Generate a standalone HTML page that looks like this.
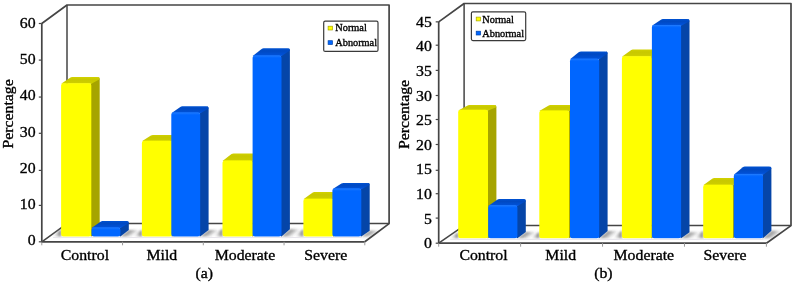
<!DOCTYPE html>
<html><head><meta charset="utf-8"><style>
html,body{margin:0;padding:0;background:#fff;width:794px;height:283px;overflow:hidden}
svg{display:block;will-change:transform}
text{font-family:"Liberation Serif", serif;fill:#000;stroke:#000;stroke-width:0.35px}
</style></head><body>
<svg width="794" height="283" viewBox="0 0 794 283">
<defs>
<linearGradient id="shd" x1="0" y1="0" x2="1" y2="0"><stop offset="0" stop-color="#7a7a7a"/><stop offset="1" stop-color="#ffffff" stop-opacity="0"/></linearGradient>
<linearGradient id="shd2" x1="0" y1="0" x2="1" y2="0"><stop offset="0" stop-color="#ffffff" stop-opacity="0"/><stop offset="1" stop-color="#6a6a6a"/></linearGradient>
<linearGradient id="ytop" x1="0" y1="0" x2="0" y2="1"><stop offset="0" stop-color="#d2d200"/><stop offset="0.35" stop-color="#c8c800"/><stop offset="0.8" stop-color="#cccc00"/><stop offset="1" stop-color="#e0e000"/></linearGradient>
<linearGradient id="btop" x1="0" y1="0" x2="0" y2="1"><stop offset="0" stop-color="#0052d2"/><stop offset="0.35" stop-color="#0049c2"/><stop offset="0.8" stop-color="#0050d4"/><stop offset="1" stop-color="#0a60ee"/></linearGradient>
<linearGradient id="bhl" x1="0" y1="0" x2="0" y2="1"><stop offset="0" stop-color="#3388ff" stop-opacity="0.7"/><stop offset="1" stop-color="#0066ff" stop-opacity="0"/></linearGradient>
<filter id="blur2" x="-50%" y="-50%" width="200%" height="200%"><feGaussianBlur stdDeviation="1.3"/></filter>
<filter id="blur" x="-50%" y="-50%" width="200%" height="200%"><feGaussianBlur stdDeviation="0.8"/></filter>
</defs>
<rect width="794" height="283" fill="#fff"/>
<path d="M67 5 L67 223.6 L389.1 223.6 M41.8 241.8 L67 223.6" stroke="#454545" stroke-width="1.5" fill="none"/>
<g filter="url(#blur)"><path d="M120.7 236.5 L129.1 230.1 L131.1 230.1 L122.7 236.5 Z" fill="#4a4a4a" fill-opacity="0.62"/><path d="M122.7 236.5 L131.1 230.1 L133.1 230.1 L124.7 236.5 Z" fill="#4a4a4a" fill-opacity="0.55"/><path d="M124.7 236.5 L133.1 230.1 L135.1 230.1 L126.7 236.5 Z" fill="#4a4a4a" fill-opacity="0.42"/><path d="M126.7 236.5 L135.1 230.1 L137.1 230.1 L128.7 236.5 Z" fill="#4a4a4a" fill-opacity="0.28"/><path d="M128.7 236.5 L137.1 230.1 L139.1 230.1 L130.7 236.5 Z" fill="#4a4a4a" fill-opacity="0.14"/></g>
<path d="M51.1 236.5 L61.1 229.3 L61.1 236.5 Z" fill="url(#shd2)" filter="url(#blur)"/>
<g filter="url(#blur)"><path d="M200.5 236.5 L208.9 230.1 L210.9 230.1 L202.5 236.5 Z" fill="#4a4a4a" fill-opacity="0.62"/><path d="M202.5 236.5 L210.9 230.1 L212.9 230.1 L204.5 236.5 Z" fill="#4a4a4a" fill-opacity="0.55"/><path d="M204.5 236.5 L212.9 230.1 L214.9 230.1 L206.5 236.5 Z" fill="#4a4a4a" fill-opacity="0.42"/><path d="M206.5 236.5 L214.9 230.1 L216.9 230.1 L208.5 236.5 Z" fill="#4a4a4a" fill-opacity="0.28"/><path d="M208.5 236.5 L216.9 230.1 L218.9 230.1 L210.5 236.5 Z" fill="#4a4a4a" fill-opacity="0.14"/></g>
<path d="M131.9 236.5 L141.9 229.7 L141.9 236.5 Z" fill="url(#shd2)" filter="url(#blur)"/>
<g filter="url(#blur)"><path d="M281.8 236.5 L290.2 229.2 L292.2 229.2 L283.8 236.5 Z" fill="#4a4a4a" fill-opacity="0.62"/><path d="M283.8 236.5 L292.2 229.2 L294.2 229.2 L285.8 236.5 Z" fill="#4a4a4a" fill-opacity="0.55"/><path d="M285.8 236.5 L294.2 229.2 L296.2 229.2 L287.8 236.5 Z" fill="#4a4a4a" fill-opacity="0.42"/><path d="M287.8 236.5 L296.2 229.2 L298.2 229.2 L289.8 236.5 Z" fill="#4a4a4a" fill-opacity="0.28"/><path d="M289.8 236.5 L298.2 229.2 L300.2 229.2 L291.8 236.5 Z" fill="#4a4a4a" fill-opacity="0.14"/></g>
<path d="M212.5 236.5 L222.5 228.5 L222.5 236.5 Z" fill="url(#shd2)" filter="url(#blur)"/>
<g filter="url(#blur)"><path d="M361.6 236.5 L370 230.8 L372 230.8 L363.6 236.5 Z" fill="#4a4a4a" fill-opacity="0.62"/><path d="M363.6 236.5 L372 230.8 L374 230.8 L365.6 236.5 Z" fill="#4a4a4a" fill-opacity="0.55"/><path d="M365.6 236.5 L374 230.8 L376 230.8 L367.6 236.5 Z" fill="#4a4a4a" fill-opacity="0.42"/><path d="M367.6 236.5 L376 230.8 L378 230.8 L369.6 236.5 Z" fill="#4a4a4a" fill-opacity="0.28"/><path d="M369.6 236.5 L378 230.8 L380 230.8 L371.6 236.5 Z" fill="#4a4a4a" fill-opacity="0.14"/></g>
<path d="M293.4 236.5 L303.4 228.9 L303.4 236.5 Z" fill="url(#shd2)" filter="url(#blur)"/>
<path d="M90.8 83.2 L98.38 77.2 Q99.7 77 99.7 79.2 L99.7 230.3 L91.3 236.5 L90.8 236.5 Z" fill="#a6a400"/>
<path d="M61.1 83.8 L70.1 77.7 Q71 77 72.1 77 L97.5 77 Q99.7 77 99.7 79.2 L91.3 83.8 Z" fill="url(#ytop)"/>
<rect x="61.1" y="83.2" width="30.2" height="153.3" rx="2.5" fill="#ffff00"/>
<path d="M119.9 227.4 L127.48 221.2 Q128.8 221 128.8 223.2 L128.8 230.1 L120.4 236.5 L119.9 236.5 Z" fill="#0545a8"/>
<path d="M91.5 228 L100.5 221.7 Q101.4 221 102.5 221 L126.6 221 Q128.8 221 128.8 223.2 L120.4 228 Z" fill="url(#btop)"/>
<rect x="91.5" y="227.4" width="28.9" height="9.1" rx="2.5" fill="#0066ff"/>
<rect x="91.8" y="227.4" width="28.3" height="3.2" rx="1.8" fill="url(#bhl)"/>
<path d="M171.6 140.7 L179.18 135.1 Q180.5 134.9 180.5 137.1 L180.5 230.7 L172.1 236.5 L171.6 236.5 Z" fill="#a6a400"/>
<path d="M141.9 141.3 L150.9 135.6 Q151.8 134.9 152.9 134.9 L178.3 134.9 Q180.5 134.9 180.5 137.1 L172.1 141.3 Z" fill="url(#ytop)"/>
<rect x="141.9" y="140.7" width="30.2" height="95.8" rx="2.5" fill="#ffff00"/>
<path d="M199.7 112.6 L207.28 106.4 Q208.6 106.2 208.6 108.4 L208.6 230.1 L200.2 236.5 L199.7 236.5 Z" fill="#0545a8"/>
<path d="M171.3 113.2 L180.3 106.9 Q181.2 106.2 182.3 106.2 L206.4 106.2 Q208.6 106.2 208.6 108.4 L200.2 113.2 Z" fill="url(#btop)"/>
<rect x="171.3" y="112.6" width="28.9" height="123.9" rx="2.5" fill="#0066ff"/>
<rect x="171.6" y="112.6" width="28.3" height="3.2" rx="1.8" fill="url(#bhl)"/>
<path d="M252.2 160.4 L259.78 153.6 Q261.1 153.4 261.1 155.6 L261.1 229.5 L252.7 236.5 L252.2 236.5 Z" fill="#a6a400"/>
<path d="M222.5 161 L231.5 154.1 Q232.4 153.4 233.5 153.4 L258.9 153.4 Q261.1 153.4 261.1 155.6 L252.7 161 Z" fill="url(#ytop)"/>
<rect x="222.5" y="160.4" width="30.2" height="76.1" rx="2.5" fill="#ffff00"/>
<path d="M281 55.5 L288.58 48.4 Q289.9 48.2 289.9 50.4 L289.9 229.2 L281.5 236.5 L281 236.5 Z" fill="#0545a8"/>
<path d="M252.6 56.1 L261.6 48.9 Q262.5 48.2 263.6 48.2 L287.7 48.2 Q289.9 48.2 289.9 50.4 L281.5 56.1 Z" fill="url(#btop)"/>
<rect x="252.6" y="55.5" width="28.9" height="181" rx="2.5" fill="#0066ff"/>
<rect x="252.9" y="55.5" width="28.3" height="3.2" rx="1.8" fill="url(#bhl)"/>
<path d="M333.1 198.7 L340.68 192.3 Q342 192.1 342 194.3 L342 229.9 L333.6 236.5 L333.1 236.5 Z" fill="#a6a400"/>
<path d="M303.4 199.3 L312.4 192.8 Q313.3 192.1 314.4 192.1 L339.8 192.1 Q342 192.1 342 194.3 L333.6 199.3 Z" fill="url(#ytop)"/>
<rect x="303.4" y="198.7" width="30.2" height="37.8" rx="2.5" fill="#ffff00"/>
<path d="M360.8 188.6 L368.38 183.1 Q369.7 182.9 369.7 185.1 L369.7 230.8 L361.3 236.5 L360.8 236.5 Z" fill="#0545a8"/>
<path d="M332.4 189.2 L341.4 183.6 Q342.3 182.9 343.4 182.9 L367.5 182.9 Q369.7 182.9 369.7 185.1 L361.3 189.2 Z" fill="url(#btop)"/>
<rect x="332.4" y="188.6" width="28.9" height="47.9" rx="2.5" fill="#0066ff"/>
<rect x="332.7" y="188.6" width="28.3" height="3.2" rx="1.8" fill="url(#bhl)"/>
<path d="M53.1 237.5 L361.8 237.5" stroke="#e8e6ec" stroke-width="1.2"/>
<path d="M41.8 23.5 L67 5 L389.1 5 L389.1 223.6 L364.8 241.8" stroke="#454545" stroke-width="1.7" fill="none" stroke-linejoin="round"/>
<path d="M41.8 23.5 L41.8 241.8 L364.8 241.8" stroke="#454545" stroke-width="1.7" fill="none"/>
<path d="M38.8 241.8 L41.8 241.8" stroke="#454545" stroke-width="1.2"/>
<text transform="translate(35.6 245.15) scale(1 0.97)" text-anchor="end" font-size="15.8">0</text>
<path d="M38.8 205.4 L41.8 205.4" stroke="#454545" stroke-width="1.2"/>
<text transform="translate(35.6 209.22) scale(1 0.97)" text-anchor="end" font-size="15.8">10</text>
<path d="M38.8 170.4 L41.8 170.4" stroke="#454545" stroke-width="1.2"/>
<text transform="translate(35.6 172.68) scale(1 0.97)" text-anchor="end" font-size="15.8">20</text>
<path d="M38.8 133.3 L41.8 133.3" stroke="#454545" stroke-width="1.2"/>
<text transform="translate(35.6 136.65) scale(1 0.97)" text-anchor="end" font-size="15.8">30</text>
<path d="M38.8 97.05 L41.8 97.05" stroke="#454545" stroke-width="1.2"/>
<text transform="translate(35.6 100.47) scale(1 0.97)" text-anchor="end" font-size="15.8">40</text>
<path d="M38.8 60.1 L41.8 60.1" stroke="#454545" stroke-width="1.2"/>
<text transform="translate(35.6 64.48) scale(1 0.97)" text-anchor="end" font-size="15.8">50</text>
<path d="M38.8 23.5 L41.8 23.5" stroke="#454545" stroke-width="1.2"/>
<text transform="translate(35.6 28.15) scale(1 0.97)" text-anchor="end" font-size="15.8">60</text>
<path d="M41.8 241.8 L41.8 245.3" stroke="#999" stroke-width="1"/>
<path d="M122.55 241.8 L122.55 245.3" stroke="#999" stroke-width="1"/>
<path d="M203.3 241.8 L203.3 245.3" stroke="#999" stroke-width="1"/>
<path d="M284.05 241.8 L284.05 245.3" stroke="#999" stroke-width="1"/>
<path d="M364.8 241.8 L364.8 245.3" stroke="#999" stroke-width="1"/>
<text transform="translate(84.9 259.7) scale(1 0.97)" text-anchor="middle" font-size="15.8">Control</text>
<text transform="translate(161.9 259.7) scale(1 0.97)" text-anchor="middle" font-size="15.8">Mild</text>
<text transform="translate(245 259.7) scale(1 0.97)" text-anchor="middle" font-size="15.8">Moderate</text>
<text transform="translate(325.8 259.7) scale(1 0.97)" text-anchor="middle" font-size="15.8">Severe</text>
<text transform="translate(204.2 278.3) scale(1 0.97)" text-anchor="middle" font-size="15.8">(a)</text>
<text transform="translate(12.6 113.9) rotate(-90) scale(1 0.97)" text-anchor="middle" font-size="15.8">Percentage</text>
<rect x="323.7" y="21.2" width="54.3" height="30.2" rx="1.5" fill="#fff" stroke="#3a3a3a" stroke-width="1.2"/>
<rect x="328.1" y="26.2" width="4.4" height="3.8" fill="#ffff00" stroke="#a8a600" stroke-width="0.7"/>
<text x="335.3" y="31.2" font-size="10.3">Normal</text>
<rect x="328.1" y="40.7" width="4.4" height="3.8" fill="#0066ff" stroke="#0044aa" stroke-width="0.7"/>
<text x="335.3" y="46" font-size="10.3">Abnormal</text>
<path d="M464.1 3.5 L464.1 225.6 L791 225.6 M438.7 243.2 L464.1 225.6" stroke="#454545" stroke-width="1.5" fill="none"/>
<g filter="url(#blur)"><path d="M517.7 238.3 L526.1 232 L528.1 232 L519.7 238.3 Z" fill="#4a4a4a" fill-opacity="0.62"/><path d="M519.7 238.3 L528.1 232 L530.1 232 L521.7 238.3 Z" fill="#4a4a4a" fill-opacity="0.55"/><path d="M521.7 238.3 L530.1 232 L532.1 232 L523.7 238.3 Z" fill="#4a4a4a" fill-opacity="0.42"/><path d="M523.7 238.3 L532.1 232 L534.1 232 L525.7 238.3 Z" fill="#4a4a4a" fill-opacity="0.28"/><path d="M525.7 238.3 L534.1 232 L536.1 232 L527.7 238.3 Z" fill="#4a4a4a" fill-opacity="0.14"/></g>
<path d="M448.2 238.3 L458.2 232.5 L458.2 238.3 Z" fill="url(#shd2)" filter="url(#blur)"/>
<g filter="url(#blur)"><path d="M599.5 238.3 L607.9 231 L609.9 231 L601.5 238.3 Z" fill="#4a4a4a" fill-opacity="0.62"/><path d="M601.5 238.3 L609.9 231 L611.9 231 L603.5 238.3 Z" fill="#4a4a4a" fill-opacity="0.55"/><path d="M603.5 238.3 L611.9 231 L613.9 231 L605.5 238.3 Z" fill="#4a4a4a" fill-opacity="0.42"/><path d="M605.5 238.3 L613.9 231 L615.9 231 L607.5 238.3 Z" fill="#4a4a4a" fill-opacity="0.28"/><path d="M607.5 238.3 L615.9 231 L617.9 231 L609.5 238.3 Z" fill="#4a4a4a" fill-opacity="0.14"/></g>
<path d="M529.3 238.3 L539.3 231.9 L539.3 238.3 Z" fill="url(#shd2)" filter="url(#blur)"/>
<g filter="url(#blur)"><path d="M681.4 238.3 L689.8 232.2 L691.8 232.2 L683.4 238.3 Z" fill="#4a4a4a" fill-opacity="0.62"/><path d="M683.4 238.3 L691.8 232.2 L693.8 232.2 L685.4 238.3 Z" fill="#4a4a4a" fill-opacity="0.55"/><path d="M685.4 238.3 L693.8 232.2 L695.8 232.2 L687.4 238.3 Z" fill="#4a4a4a" fill-opacity="0.42"/><path d="M687.4 238.3 L695.8 232.2 L697.8 232.2 L689.4 238.3 Z" fill="#4a4a4a" fill-opacity="0.28"/><path d="M689.4 238.3 L697.8 232.2 L699.8 232.2 L691.4 238.3 Z" fill="#4a4a4a" fill-opacity="0.14"/></g>
<path d="M611.9 238.3 L621.9 230.6 L621.9 238.3 Z" fill="url(#shd2)" filter="url(#blur)"/>
<g filter="url(#blur)"><path d="M763.3 238.3 L771.7 230.7 L773.7 230.7 L765.3 238.3 Z" fill="#4a4a4a" fill-opacity="0.62"/><path d="M765.3 238.3 L773.7 230.7 L775.7 230.7 L767.3 238.3 Z" fill="#4a4a4a" fill-opacity="0.55"/><path d="M767.3 238.3 L775.7 230.7 L777.7 230.7 L769.3 238.3 Z" fill="#4a4a4a" fill-opacity="0.42"/><path d="M769.3 238.3 L777.7 230.7 L779.7 230.7 L771.3 238.3 Z" fill="#4a4a4a" fill-opacity="0.28"/><path d="M771.3 238.3 L779.7 230.7 L781.7 230.7 L773.3 238.3 Z" fill="#4a4a4a" fill-opacity="0.14"/></g>
<path d="M693.2 238.3 L703.2 230.7 L703.2 238.3 Z" fill="url(#shd2)" filter="url(#blur)"/>
<path d="M487.5 109.8 L495.08 105.2 Q496.4 105 496.4 107.2 L496.4 233.5 L488 238.3 L487.5 238.3 Z" fill="#a6a400"/>
<path d="M458.2 110.4 L467.2 105.7 Q468.1 105 469.2 105 L494.2 105 Q496.4 105 496.4 107.2 L488 110.4 Z" fill="url(#ytop)"/>
<rect x="458.2" y="109.8" width="29.8" height="128.5" rx="2.5" fill="#ffff00"/>
<path d="M516.9 205.3 L524.48 199.2 Q525.8 199 525.8 201.2 L525.8 232 L517.4 238.3 L516.9 238.3 Z" fill="#0545a8"/>
<path d="M488.2 205.9 L497.2 199.7 Q498.1 199 499.2 199 L523.6 199 Q525.8 199 525.8 201.2 L517.4 205.9 Z" fill="url(#btop)"/>
<rect x="488.2" y="205.3" width="29.2" height="33" rx="2.5" fill="#0066ff"/>
<rect x="488.5" y="205.3" width="28.6" height="3.2" rx="1.8" fill="url(#bhl)"/>
<path d="M568.6 110.5 L576.18 105.3 Q577.5 105.1 577.5 107.3 L577.5 232.9 L569.1 238.3 L568.6 238.3 Z" fill="#a6a400"/>
<path d="M539.3 111.1 L548.3 105.8 Q549.2 105.1 550.3 105.1 L575.3 105.1 Q577.5 105.1 577.5 107.3 L569.1 111.1 Z" fill="url(#ytop)"/>
<rect x="539.3" y="110.5" width="29.8" height="127.8" rx="2.5" fill="#ffff00"/>
<path d="M598.7 58.7 L606.28 51.6 Q607.6 51.4 607.6 53.6 L607.6 231 L599.2 238.3 L598.7 238.3 Z" fill="#0545a8"/>
<path d="M570 59.3 L579 52.1 Q579.9 51.4 581 51.4 L605.4 51.4 Q607.6 51.4 607.6 53.6 L599.2 59.3 Z" fill="url(#btop)"/>
<rect x="570" y="58.7" width="29.2" height="179.6" rx="2.5" fill="#0066ff"/>
<rect x="570.3" y="58.7" width="28.6" height="3.2" rx="1.8" fill="url(#bhl)"/>
<path d="M651.2 56.2 L658.78 49.7 Q660.1 49.5 660.1 51.7 L660.1 231.6 L651.7 238.3 L651.2 238.3 Z" fill="#a6a400"/>
<path d="M621.9 56.8 L630.9 50.2 Q631.8 49.5 632.9 49.5 L657.9 49.5 Q660.1 49.5 660.1 51.7 L651.7 56.8 Z" fill="url(#ytop)"/>
<rect x="621.9" y="56.2" width="29.8" height="182.1" rx="2.5" fill="#ffff00"/>
<path d="M680.6 25.1 L688.18 19.2 Q689.5 19 689.5 21.2 L689.5 232.2 L681.1 238.3 L680.6 238.3 Z" fill="#0545a8"/>
<path d="M651.9 25.7 L660.9 19.7 Q661.8 19 662.9 19 L687.3 19 Q689.5 19 689.5 21.2 L681.1 25.7 Z" fill="url(#btop)"/>
<rect x="651.9" y="25.1" width="29.2" height="213.2" rx="2.5" fill="#0066ff"/>
<rect x="652.2" y="25.1" width="28.6" height="3.2" rx="1.8" fill="url(#bhl)"/>
<path d="M732.5 184.7 L740.08 178.3 Q741.4 178.1 741.4 180.3 L741.4 231.7 L733 238.3 L732.5 238.3 Z" fill="#a6a400"/>
<path d="M703.2 185.3 L712.2 178.8 Q713.1 178.1 714.2 178.1 L739.2 178.1 Q741.4 178.1 741.4 180.3 L733 185.3 Z" fill="url(#ytop)"/>
<rect x="703.2" y="184.7" width="29.8" height="53.6" rx="2.5" fill="#ffff00"/>
<path d="M762.5 174.1 L770.08 166.7 Q771.4 166.5 771.4 168.7 L771.4 230.7 L763 238.3 L762.5 238.3 Z" fill="#0545a8"/>
<path d="M733.8 174.7 L742.8 167.2 Q743.7 166.5 744.8 166.5 L769.2 166.5 Q771.4 166.5 771.4 168.7 L763 174.7 Z" fill="url(#btop)"/>
<rect x="733.8" y="174.1" width="29.2" height="64.2" rx="2.5" fill="#0066ff"/>
<rect x="734.1" y="174.1" width="28.6" height="3.2" rx="1.8" fill="url(#bhl)"/>
<path d="M450.2 239.3 L763.4 239.3" stroke="#e8e6ec" stroke-width="1.2"/>
<path d="M438.7 21.85 L464.1 3.5 L791 3.5 L791 225.6 L766.4 243.2" stroke="#454545" stroke-width="1.7" fill="none" stroke-linejoin="round"/>
<path d="M438.7 21.85 L438.7 243.2 L766.4 243.2" stroke="#454545" stroke-width="1.7" fill="none"/>
<path d="M435.7 243.2 L438.7 243.2" stroke="#454545" stroke-width="1.2"/>
<text transform="translate(431.8 248.4) scale(1 0.97)" text-anchor="end" font-size="15.8">0</text>
<path d="M435.7 218.1 L438.7 218.1" stroke="#454545" stroke-width="1.2"/>
<text transform="translate(431.8 223.86) scale(1 0.97)" text-anchor="end" font-size="15.8">5</text>
<path d="M435.7 193.7 L438.7 193.7" stroke="#454545" stroke-width="1.2"/>
<text transform="translate(431.8 198.5) scale(1 0.97)" text-anchor="end" font-size="15.8">10</text>
<path d="M435.7 170.3 L438.7 170.3" stroke="#454545" stroke-width="1.2"/>
<text transform="translate(431.8 174.37) scale(1 0.97)" text-anchor="end" font-size="15.8">15</text>
<path d="M435.7 144.5 L438.7 144.5" stroke="#454545" stroke-width="1.2"/>
<text transform="translate(431.8 149.8) scale(1 0.97)" text-anchor="end" font-size="15.8">20</text>
<path d="M435.7 119.5 L438.7 119.5" stroke="#454545" stroke-width="1.2"/>
<text transform="translate(431.8 124.9) scale(1 0.97)" text-anchor="end" font-size="15.8">25</text>
<path d="M435.7 95.5 L438.7 95.5" stroke="#454545" stroke-width="1.2"/>
<text transform="translate(431.8 100.95) scale(1 0.97)" text-anchor="end" font-size="15.8">30</text>
<path d="M435.7 70.4 L438.7 70.4" stroke="#454545" stroke-width="1.2"/>
<text transform="translate(431.8 76.2) scale(1 0.97)" text-anchor="end" font-size="15.8">35</text>
<path d="M435.7 45.2 L438.7 45.2" stroke="#454545" stroke-width="1.2"/>
<text transform="translate(431.8 51.17) scale(1 0.97)" text-anchor="end" font-size="15.8">40</text>
<path d="M435.7 21.85 L438.7 21.85" stroke="#454545" stroke-width="1.2"/>
<text transform="translate(431.8 27.2) scale(1 0.97)" text-anchor="end" font-size="15.8">45</text>
<path d="M438.7 243.2 L438.7 246.7" stroke="#999" stroke-width="1"/>
<path d="M520.62 243.2 L520.62 246.7" stroke="#999" stroke-width="1"/>
<path d="M602.55 243.2 L602.55 246.7" stroke="#999" stroke-width="1"/>
<path d="M684.47 243.2 L684.47 246.7" stroke="#999" stroke-width="1"/>
<path d="M766.4 243.2 L766.4 246.7" stroke="#999" stroke-width="1"/>
<text transform="translate(483.5 260.2) scale(1 0.97)" text-anchor="middle" font-size="15.8">Control</text>
<text transform="translate(560.7 260.2) scale(1 0.97)" text-anchor="middle" font-size="15.8">Mild</text>
<text transform="translate(643.8 260.2) scale(1 0.97)" text-anchor="middle" font-size="15.8">Moderate</text>
<text transform="translate(725 260.2) scale(1 0.97)" text-anchor="middle" font-size="15.8">Severe</text>
<text transform="translate(603.4 277.9) scale(1 0.97)" text-anchor="middle" font-size="15.8">(b)</text>
<text transform="translate(408.6 114.5) rotate(-90) scale(1 0.97)" text-anchor="middle" font-size="15.8">Percentage</text>
<rect x="471.4" y="11.8" width="54.3" height="28.8" rx="1.5" fill="#fff" stroke="#3a3a3a" stroke-width="1.2"/>
<rect x="476.2" y="17.1" width="4.4" height="3.8" fill="#ffff00" stroke="#a8a600" stroke-width="0.7"/>
<text x="482.3" y="22.6" font-size="10.3">Normal</text>
<rect x="476.2" y="31.2" width="4.4" height="3.8" fill="#0066ff" stroke="#0044aa" stroke-width="0.7"/>
<text x="482.3" y="37.1" font-size="10.3">Abnormal</text>
</svg>
</body></html>
